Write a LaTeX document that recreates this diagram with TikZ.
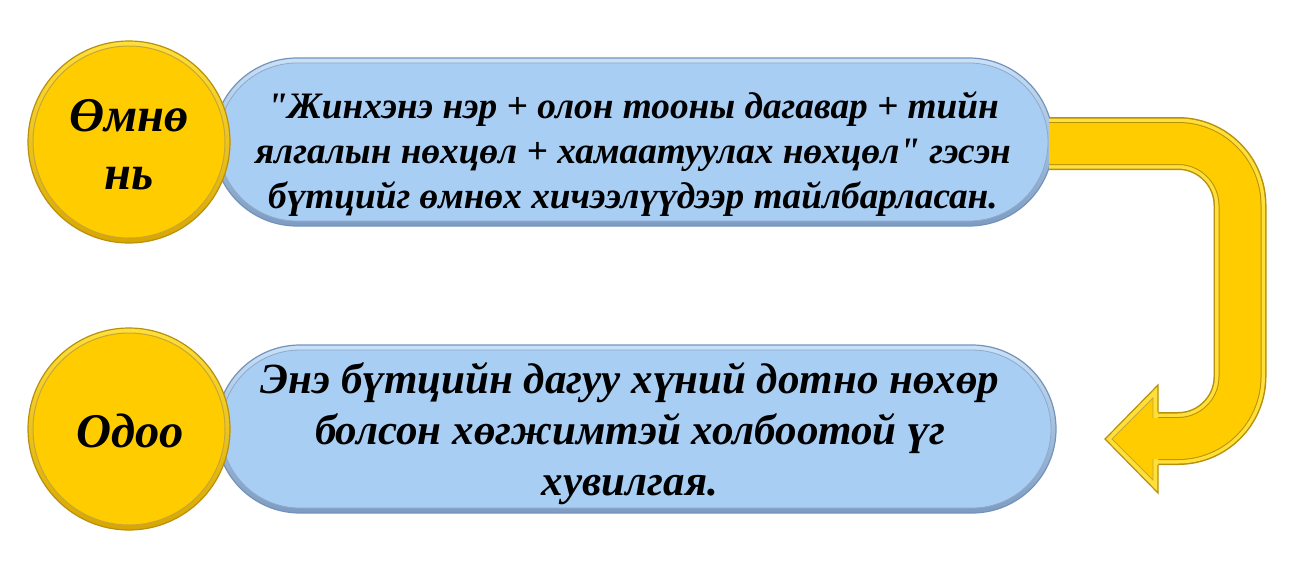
\documentclass[tikz,border=0pt]{standalone}
\usepackage{fontspec}
\setmainfont[Ligatures=TeXOff]{Liberation Serif}
\definecolor{gold}{HTML}{FFCC00}
\definecolor{goldlight}{HTML}{FFE03A}
\definecolor{golddark}{HTML}{B8900A}
\definecolor{goldshade}{HTML}{D9A600}
\definecolor{bluefill}{HTML}{A9CEF4}
\definecolor{bluetop}{HTML}{C9E1F8}
\definecolor{bluebot}{HTML}{7E9CC2}
\definecolor{blueedge}{HTML}{7393BB}
\begin{document}
\begin{tikzpicture}[x=1pt,y=-1pt,
  pill/.style={rectangle, rounded corners=84pt, minimum width=840pt, minimum height=168pt, inner sep=0pt, top color=bluetop, bottom color=bluebot, draw=blueedge, line width=1.2pt},
  pillin/.style={rectangle, rounded corners=79pt, minimum width=830pt, minimum height=158pt, inner sep=0pt, fill=bluefill, draw=blueedge!80, line width=0.8pt},
  disc/.style={circle, minimum size=202pt, inner sep=0pt, top color=goldlight, bottom color=goldshade, draw=golddark, line width=1.2pt},
  discin/.style={circle, minimum size=192pt, inner sep=0pt, fill=gold, draw=golddark!80, line width=1pt},
  txt/.style={align=center, inner sep=0pt, text=black},
  bodyA/.style={txt, font=\bfseries\itshape\fontsize{37.3}{45}\selectfont},
  bodyB/.style={txt, font=\bfseries\itshape\fontsize{43}{51}\selectfont},
  label/.style={txt, font=\bfseries\itshape\fontsize{48.5}{58}\selectfont},
]
\useasboundingbox (0,0) rectangle (1292,565);
% pills
\node[pill] (p1) at (633,142) {};
\node[pillin] (p1in) at (p1) {};
\node[pill] (p2) at (636,429) {};
\node[pillin] (p2in) at (p2) {};
% arrow
\coordinate (a0) at (1049,143.5);
\coordinate (a1) at (1240,143.5);
\coordinate (a2) at (1240,438.5);
\coordinate (a3) at (1158,438.5);
\coordinate (tip) at (1105,439);
\foreach \w/\c in {53/golddark,50/goldlight,43/golddark,41/gold}
  \draw[line width=\w pt, color=\c, rounded corners=62pt] (a0) -- (a1) -- (a2) -- (a3);
\fill[goldlight] (1158,412) -- (1158,385) -- (tip) -- (1158,493) -- (1158,465) -- cycle;
\draw[golddark, line width=1.2pt] (1158,412) -- (1158,385) -- (tip) -- (1158,493) -- (1158,465);
\fill[gold] (1159,418) -- (1153,418) -- (1153,398) -- (1112,439) -- (1153,480) -- (1153,459) -- (1159,459) -- cycle;
\draw[golddark!80, line width=0.8pt] (1153,418) -- (1153,398) -- (1112,439) -- (1153,480) -- (1153,459);
% discs
\node[disc] (c1) at (129,142) {};
\node[discin] (c1in) at (c1) {};
\node[disc] (c2) at (129,429) {};
\node[discin] (c2in) at (c2) {};
% texts
\node[bodyA] (t1) at (633,154) {"Жинхэнэ нэр + олон тооны дагавар + тийн\\ялгалын нөхцөл + хамаатуулах нөхцөл" гэсэн\\бүтцийг өмнөх хичээлүүдээр тайлбарласан.};
\node[bodyB] (t2) at (630,434) {Энэ бүтцийн дагуу хүний дотно нөхөр\\болсон хөгжимтэй холбоотой үг\\хувилгая.};
\node[label] (l1) at (129,145) {Өмнө\\нь};
\node[label] (l2) at (130,431) {Одоо};
\end{tikzpicture}
\end{document}
